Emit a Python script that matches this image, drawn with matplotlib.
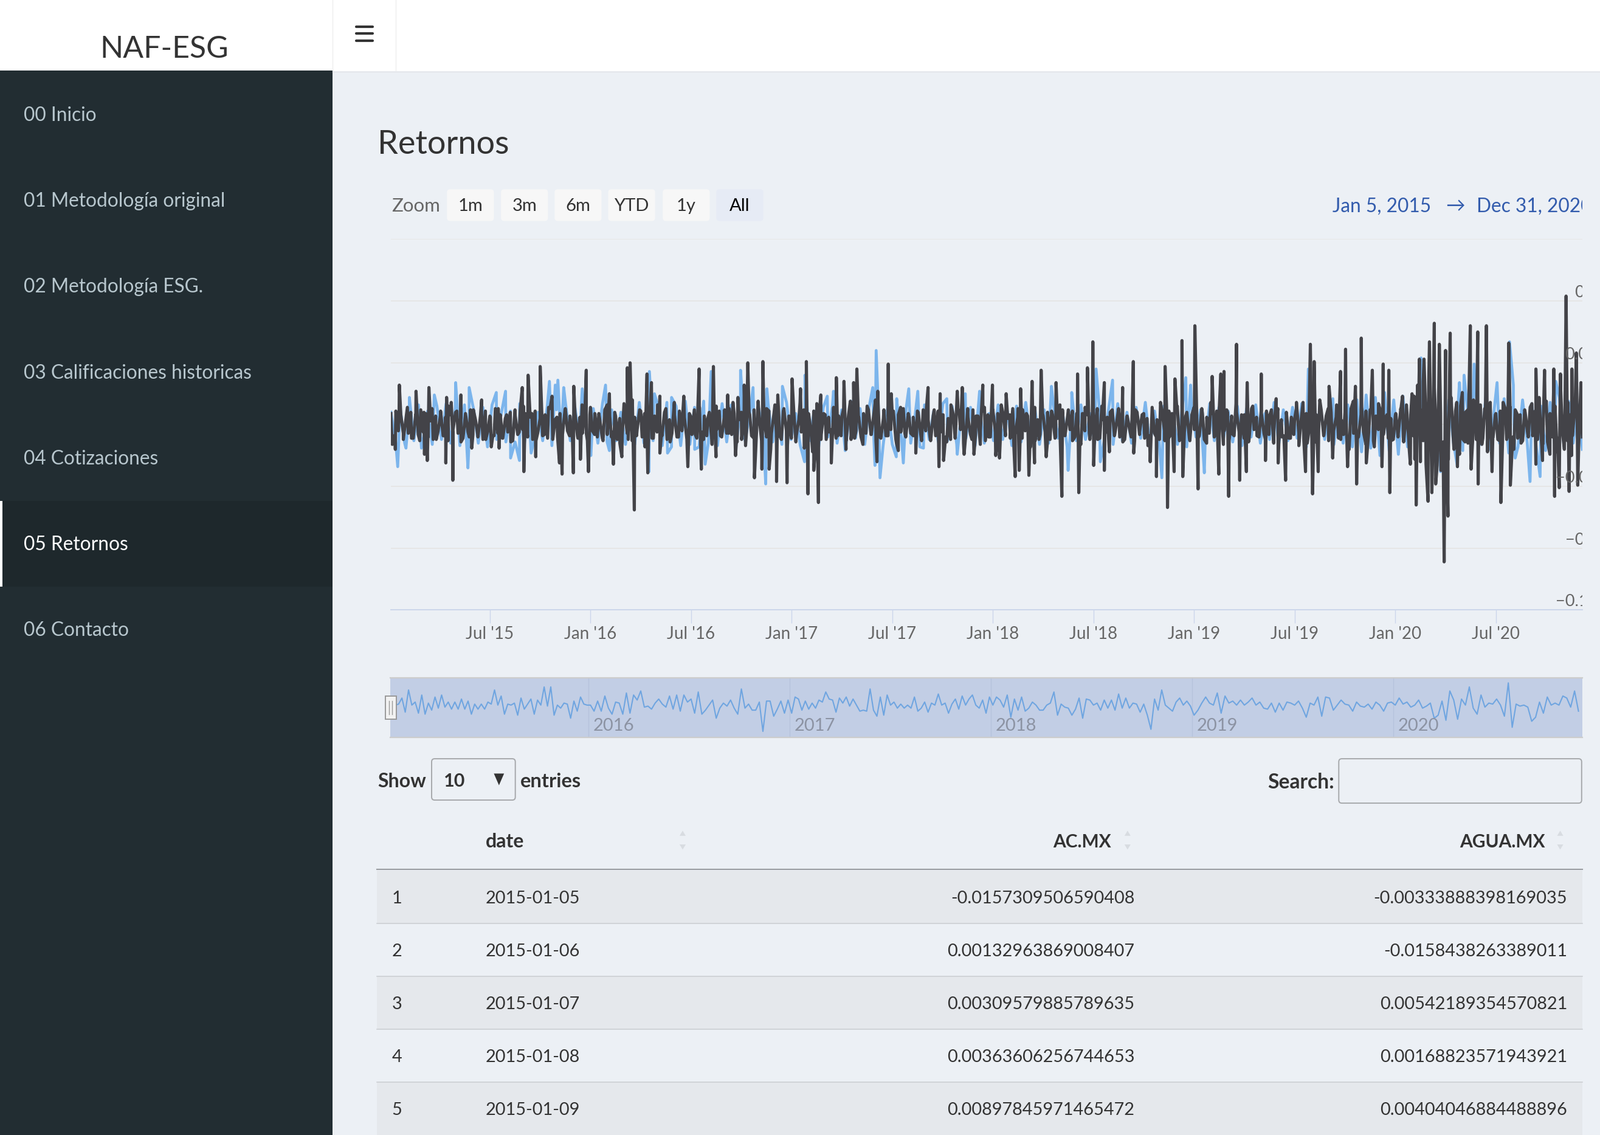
"""Retornos dashboard page (NAF-ESG): stock chart, navigator and table."""
import numpy as np
import matplotlib
matplotlib.use('Agg')
import matplotlib.pyplot as plt
from matplotlib.patches import Rectangle, FancyBboxPatch, Polygon

plt.rcParams['font.family'] = ['Lato', 'Noto Sans', 'DejaVu Sans']

# === Data (returns in 1e-3 units, time in decimal years) ===
dark_high_x = [2015.05, 2015.133, 2015.197, 2015.285, 2015.308, 2015.356, 2015.459, 2015.661, 2015.69, 2015.75,
               2015.809, 2015.917, 2015.979, 2016.094, 2016.183, 2016.197, 2016.281, 2016.303, 2016.345, 2016.464,
               2016.54, 2016.611, 2016.682, 2016.733, 2016.764, 2016.782, 2016.857, 2016.931, 2017.002, 2017.044,
               2017.073, 2017.145, 2017.222, 2017.26, 2017.308, 2017.324, 2017.428, 2017.48, 2017.495, 2017.678,
               2017.738, 2017.823, 2017.848, 2017.95, 2017.998, 2018.066, 2018.138, 2018.195, 2018.24, 2018.314,
               2018.421, 2018.47, 2018.497, 2018.554, 2018.645, 2018.698, 2018.856, 2018.905, 2018.94, 2019.004,
               2019.09, 2019.133, 2019.149, 2019.211, 2019.264, 2019.334, 2019.408, 2019.509, 2019.578, 2019.597,
               2019.671, 2019.728, 2019.753, 2019.802, 2019.831, 2019.886, 2019.94, 2019.968, 2020.036, 2020.094,
               2020.12, 2020.143, 2020.17, 2020.194, 2020.219, 2020.25, 2020.273, 2020.373, 2020.41, 2020.453,
               2020.564, 2020.699, 2020.742, 2020.788, 2020.821, 2020.849, 2020.878, 2020.9, 2020.923]
dark_high_y = [32, 27, 30, 22, 18, 24, 20, 30, 40, 47,
               23, 31, 44, 25, 46, 50, 41, 34, 23, 23,
               45, 47, 24, 22, 32, 50, 51, 24, 37, 29,
               51, 24, 38, 35, 34, 45, 27, 49, 25, 30,
               25, 27, 30, 32, 32, 25, 29, 35, 44, 34,
               41, 46, 67, 34, 30, 51, 47, 37, 68, 80,
               39, 41, 43, 65, 34, 41, 21, 18, 65, 51,
               31, 43, 61, 31, 70, 44, 49, 44, 23, 23,
               53, 53, 67, 82, 65, 60, 74, 80, 75, 80,
               66, 45, 44, 45, 41, 104, 45, 58, 34]
dark_low_x = [2015.015, 2015.03, 2015.175, 2015.189, 2015.281, 2015.316, 2015.41, 2015.507, 2015.546, 2015.669,
              2015.728, 2015.846, 2015.859, 2015.915, 2015.95, 2015.99, 2016.114, 2016.156, 2016.218, 2016.285,
              2016.345, 2016.484, 2016.551, 2016.624, 2016.721, 2016.815, 2016.852, 2016.888, 2016.925, 2016.977,
              2017.081, 2017.11, 2017.133, 2017.197, 2017.27, 2017.424, 2017.53, 2017.617, 2017.732, 2017.755,
              2017.857, 2017.906, 2018.014, 2018.033, 2018.111, 2018.131, 2018.179, 2018.207, 2018.265, 2018.343,
              2018.427, 2018.501, 2018.554, 2018.579, 2018.7, 2018.782, 2018.813, 2018.868, 2018.901, 2018.944,
              2019.02, 2019.123, 2019.172, 2019.227, 2019.26, 2019.355, 2019.418, 2019.455, 2019.554, 2019.589,
              2019.617, 2019.689, 2019.763, 2019.808, 2019.856, 2019.934, 2019.973, 2020.075, 2020.104, 2020.163,
              2020.182, 2020.201, 2020.227, 2020.243, 2020.262, 2020.309, 2020.377, 2020.412, 2020.481, 2020.525,
              2020.572, 2020.699, 2020.732, 2020.792, 2020.815, 2020.864, 2020.907]
dark_low_y = [-16, -20, -24, -29, -31, -45, -19, -18, -19, -38,
              -26, -31, -40, -39, -28, -38, -32, -26, -69, -39,
              -23, -34, -36, -26, -25, -43, -36, -36, -46, -47,
              -56, -37, -63, -31, -20, -30, -21, -23, -34, -29,
              -24, -24, -25, -27, -42, -37, -41, -31, -26, -58,
              -55, -33, -37, -22, -23, -30, -42, -67, -38, -42,
              -52, -40, -58, -45, -38, -29, -31, -45, -38, -56,
              -38, -27, -34, -48, -31, -34, -55, -32, -65, -62,
              -55, -48, -37, -111, -74, -34, -36, -48, -38, -63,
              -49, -32, -29, -58, -51, -54, -49]

dark_base_15a = [9, -10, 12, -7, 14, -11, 8, -13, 10, -6, 13, -12, 7, -9, 15, -8, 11, -14, 6, -10, 12, -7, 9, -12]
dark_base_15b = [7, -9, 13, -11, 8, -14, 12, -6, 15, -10, 9, -13, 11, -8, 14, -12, 6, -15, 13, -9, 10, -11, 16, -7]
dark_base_16a = [14, -8, 9, -13, 16, -10, 7, -15, 17, -12, 20, -9, 11, -18, 8, -11, 16, -6, 13, -14, 18, -10, 8, -12]
dark_base_16b = [6, -8, 14, -12, 5, -16, 15, -9, 12, -7, 18, -14, 10, -17, 8, -11, 19, -15, 13, -20, 16, -8, 11, -17]
dark_base_17a = [10, -14, 18, -19, 9, -22, 17, -12, 8, -6, 14, -9, 7, -13, 19, -11, 6, -16, 15, -8, 20, -10, 12, -9]
dark_base_17b = [9, -15, 14, -7, 6, -9, 11, -13, 7, -10, 12, -6, 8, -14, 16, -11, 9, -15, 13, -12, 7, -16, 14, -10]
dark_base_18a = [12, -15, 16, -9, 8, -17, 13, -11, 9, -18, 14, -12, 7, -15, 11, -10, 16, -8, 12, -13, 9, -16, 14, -7]
dark_base_18b = [8, -12, 15, -6, 10, -9, 13, -14, 7, -10, 12, -8, 9, -17, 14, -10, 18, -13, 11, -16, 15, -9, 7, -13]
dark_base_19a = [14, -11, 9, -15, 18, -8, 12, -16, 10, -7, 17, -13, 8, -14, 15, -9, 11, -12, 7, -15, 13, -10, 6, -11]
dark_base_19b = [5, -17, 18, -15, 9, -14, 20, -8, 13, -18, 16, -12, 10, -20, 19, -9, 14, -16, 12, -18, 17, -10, 8, -13]
dark_base_20a = [7, -10, 12, -14, 16, -20, 25, -28, 32, -30, 35, -32, 38, -35, 30, -33, 36, -26, 30, -28, 22, -20,
                 18, -24, 26, -14, 12, -18, 20, -12, 15, -16, 13, -22, 18, -10]
dark_base_20b = [9, -13, 18, -12, 14, -20, 8, -15, 12, -10, 17, -14, 22, -16, 19, -24, 26, -22, 28, -20, 18, -25, 14, -16]
# small day to day moves that make up the dark band around zero
dark_fill = [6, -9, 11, -5, 8, -12, 4, -7, 10, -11, 5, -8, 12, -6, 9, -10, 3, -12, 7, -5, 11, -9, 6, -13, 8, -4, 10, -7, 5, -11,
             9, -6, 12, -8, 4, -10, 7, -12, 11, -5, 6, -9, 13, -7, 8, -11, 5, -6, 10, -13, 7, -8, 12, -4, 9, -10, 6, -12, 11, -7,
             5, -9, 8, -11, 13, -6, 4, -10, 9, -8, 12, -5, 7, -12, 10, -9, 6, -7, 11, -13, 8, -5, 9, -10, 4, -11, 12, -8, 7, -6,
             10, -12, 5, -9, 11, -7, 8, -13, 6, -4, 12, -10, 9, -8, 5, -11, 7, -6, 13, -9, 10, -12, 4, -7, 8, -10, 11, -5, 6, -13,
             9, -8, 12, -11, 5, -6, 7, -9, 10, -12, 8, -4, 11, -10, 6, -7, 13, -8, 9, -11, 4, -12, 7, -5, 10, -9, 12, -6, 8, -13,
             5, -10, 11, -7, 9, -8, 6, -12, 13, -5, 7, -11, 10, -9, 4, -6, 12, -13, 8, -7, 11, -10, 5, -8, 9, -12, 6, -4, 10, -11,
             7, -9, 13, -6, 8, -12, 11, -5, 4, -10, 9, -7, 12, -8, 6, -13, 10, -11, 5, -9, 7, -4, 11, -12, 8, -6, 13, -10, 9, -7,
             6, -11, 10, -8, 12, -5, 4, -13, 7, -9, 11, -6, 8, -10, 5, -12, 9, -7, 13, -4, 10, -11, 6, -8, 12, -9, 7, -5, 11, -13,
             8, -10, 4, -6, 9, -12, 10, -7, 5, -11, 13, -8, 6, -9, 12, -5, 7, -10, 11, -13, 4, -8, 9, -6, 10, -12, 8, -11, 5, -7,
             12, -9, 6, -4, 11, -10, 7, -13, 9, -5, 8, -12, 10, -6, 13, -11, 4, -7, 6, -9, 12, -8, 5, -10, 11, -12, 7, -4, 9, -13,
             10, -6, 8, -11, 5, -9, 13, -7, 4, -12, 11, -5, 6, -10, 9, -8, 12, -13, 7, -6, 10, -11, 8, -4, 5, -9, 13, -12, 6, -7,
             9, -10, 11, -8, 4, -5, 12, -13, 7, -9, 10, -6, 8, -11, 5, -12, 13, -4, 6, -10, 9, -7, 11, -8, 12, -5, 7, -13, 4, -9,
             10, -11, 6, -8, 13, -7, 5, -12, 9, -6, 11, -10, 8, -4, 12, -9, 7, -13, 10, -5, 6, -11, 4, -8, 9, -12, 13, -7, 5, -10,
             8, -6, 11, -9, 12, -13, 7, -4, 10, -8, 6, -11, 5, -12, 9, -7, 13, -10, 4, -6, 8, -9, 11, -5, 12, -13, 10, -7, 6, -8,
             7, -11, 9, -14, 12, -10, 14, -8, 11, -13, 15, -12, 10, -15, 13, -9, 12, -14, 16, -11, 9, -13, 14, -10, 8, -12, 11, -7, 13, -9,
             6, -10, 12, -11, 8, -13, 10, -7, 14, -9, 11, -12, 7, -8, 13, -14, 9, -10, 15, -11, 12, -6, 10, -13, 8, -9, 14, -12, 11, -10]

blue_high_x = [2015.1, 2015.224, 2015.33, 2015.397, 2015.532, 2015.578, 2015.796, 2015.825, 2015.838, 2015.867,
               2015.959, 2016.075, 2016.293, 2016.318, 2016.403, 2016.6, 2016.746, 2016.808, 2016.877, 2016.954,
               2017.066, 2017.177, 2017.208, 2017.403, 2017.42, 2017.522, 2017.582, 2017.627, 2017.771, 2017.863,
               2017.934, 2018.291, 2018.392, 2018.513, 2018.595, 2018.959, 2018.983, 2019.568, 2019.69, 2020.128,
               2020.319, 2020.342, 2020.392, 2020.506, 2020.568, 2020.587, 2020.798]
blue_high_y = [22, 24, 34, 30, 26, 27, 35, 32, 36, 30,
               29, 32, 43, 25, 22, 43, 44, 30, 29, 31,
               40, 23, 27, 30, 60, 21, 29, 27, 21, 25,
               27, 31, 26, 45, 36, 38, 32, 45, 21, 54,
               34, 40, 49, 34, 67, 32, 35]
blue_low_x = [2015.042, 2015.083, 2015.16, 2015.391, 2015.603, 2015.647, 2015.705, 2016.002, 2016.094, 2016.291,
              2016.383, 2016.518, 2016.57, 2016.871, 2017.064, 2017.266, 2017.414, 2017.439, 2017.52, 2017.555,
              2017.655, 2017.823, 2018.374, 2018.534, 2018.84, 2019.051, 2020.225, 2020.309, 2020.596, 2020.67,
              2020.72]
blue_low_y = [-34, -19, -19, -35, -27, -29, -23, -25, -21, -38,
              -23, -20, -32, -48, -30, -21, -33, -43, -26, -31,
              -19, -24, -37, -30, -43, -39, -38, -34, -27, -46,
              -42]
blue_base = [10, -12, 14, -15, 12, -13, 16, -14, 11, -16, 15, -12, 17, -15, 13, -17, 16, -13, 12, -15, 14, -18, 16, -12, 9, -14,
             11, -14, 17, -16, 13, -15, 10, -13, 15, -17, 12, -14, 16, -13, 14, -12, 11, -16, 13, -15, 17, -14, 12, -13, 10, -16,
             14, -16, 18, -15, 12, -13, 16, -17, 18, -18, 15, -17, 19, -16, 14, -18, 19, -15, 13, -17, 17, -14, 16, -18, 12, -13,
             8, -15, 13, -11, 17, -14, 10, -16, 18, -12, 9, -17, 15, -13, 11, -18, 14, -10, 16, -15, 12, -14, 19, -11, 13, -16,
             15, -12, 10, -17, 14, -16, 18, -11, 13, -15, 9, -18, 16, -12, 11, -14, 17, -13, 15, -16, 10, -11, 14, -17, 12, -15,
             9, -13, 16, -12, 11, -17, 15, -14, 18, -10, 13, -16, 12, -15, 17, -11, 10, -18, 14, -13, 16, -12, 9, -15, 13, -14,
             12, -16, 17, -13, 10, -15, 14, -11, 18, -17, 11, -14, 15, -12, 9, -16, 13, -18, 16, -10, 12, -15, 17, -13, 14, -11,
             11, -14, 15, -17, 13, -10, 16, -15, 9, -12, 18, -16, 12, -13, 14, -11, 17, -18, 10, -14, 15, -12, 13, -16, 11, -15,
             16, -18, 20, -22, 24, -19, 22, -25, 26, -21, 20, -24, 23, -18, 19, -20, 21, -17, 18, -22, 16, -19, 20, -15, 17, -21,
             14, -17, 19, -16, 22, -20, 18, -15, 21, -23, 16, -18, 20, -14, 17, -19, 15, -21, 18, -16, 22, -17, 19, -15, 16, -20]

nav_15 = [0, 1, 7, -7, 15, 0, 3, -8, 10, -9, 2, -5, 8, -3, 10, -2, 3, -4, 3, -4, 6, -4, 4, -9, 1, -4, 1, -4, 3, 1,
          15, 0, 9, -9, 1, 0, 2, -10, 7, -4, 1, 6, -9, 5, 0, 18, -1, 18, -10, 0, -3, 2, 1, -13, 4, -6, 8, 1, 0]
nav_16 = [0, -6, 4, -6, 9, -3, -9, 3, 2, -9, 12, -8, 10, 5, 14, -2, -1, -4, 2, 6, 1, -2, 9, -4, 10, -6, 10, 3, 6,
          -8, 13, -9, -5, 0, 5, -13, -3, 2, -1, 5, -3, -9, 16, -3, 1, -5, -5, 3, -26, 4, 4, -11, -4, 4, -8, 5]
nav_17 = [-8, 8, 6, -5, 4, -4, 2, -3, 5, 3, 13, 6, 5, -7, 7, 2, 8, -1, 6, 0, -6, -5, -6, 16, -5, -11, 8, -10, 10, 0,
          3, -3, 1, -3, 0, -3, 8, -6, -3, 3, -7, 2, 0, 11, 0, 2, -8, 1, 6, -4, 9, 0, 6, 10, 0, -3, 5, -8, 8]
nav_18 = [0, 8, 5, -2, 10, -12, 6, -5, 8, -6, -3, 3, 0, -5, -5, 0, 2, 13, -10, 1, -2, -3, -10, -4, 7, -13, 6, 5, 0,
          2, -5, 5, -3, 5, -5, 11, -3, 7, -3, 2, 1, -7, 1, -10, -24, 6, -5, 15, 0, -3, -6, 3, 7, 0, 4, -1]
nav_19 = [-10, -5, 2, 8, 2, 0, 12, -8, 9, 2, 4, 0, 5, 0, 3, 7, 0, 3, -3, -4, 2, -7, 2, -5, 3, 2, 0, 4, -3, -12, 2, 0,
          8, -11, 8, 7, -5, 0, 5, 1, 0, -6, 3, -1, -2, 1, -4, 3, 0, -6, 2, 3]
nav_20 = [0, 7, 1, 3, -2, 0, 5, -3, -1, 2, -13, -10, 4, -15, 14, 5, -14, 6, 0, 18, -3, -9, 10, -2, 2, 1, 6, 0, -11,
          22, -22, 1, -1, 0, -2, -16, -12, 3, -8, 8, 0, 2, 0, 9, 7, -2, 14, -6]

x_tick_pos = [2015.5, 2016.0, 2016.5, 2017.0, 2017.5, 2018.0, 2018.5, 2019.0, 2019.5, 2020.0, 2020.5]
x_tick_labels = ["Jul '15", "Jan '16", "Jul '16", "Jan '17", "Jul '17", "Jan '18", "Jul '18", "Jan '19", "Jul '19",
                 "Jan '20", "Jul '20"]
y_grid = [-0.15, -0.1, -0.05, 0, 0.05, 0.1, 0.15]
y_labels = ['-0.15', '-0.1', '-0.05', '0.05', '0.1']
nav_years = [2016, 2017, 2018, 2019, 2020]

menu_items = ['00 Inicio', '01 Metodología original', '02 Metodología ESG.', '03 Calificaciones historicas',
              '04 Cotizaciones', '05 Retornos', '06 Contacto']
zoom_buttons = ['1m', '3m', '6m', 'YTD', '1y', 'All']
table_dates = ['2015-01-05', '2015-01-06', '2015-01-07', '2015-01-08', '2015-01-09']
table_ac = ['-0.0157309506590408', '0.00132963869008407', '0.00309579885789635', '0.00363606256744653',
            '0.00897845971465472']
table_agua = ['-0.00333888398169035', '-0.0158438263389011', '0.00542189354570821', '0.00168823571943921',
              '0.00404046884488896']

# === Page colors ===
PAGE = '#ecf0f5'
SIDEBAR = '#222d32'
ACTIVE = '#1e282c'
INK = '#333333'

XMIN, XMAX = 2015.008, 2020.93

fig = plt.figure(figsize=(26.32, 18.67), dpi=100, facecolor=PAGE)

# layout below is in units of the 1568 wide page
ui = fig.add_axes([0, 0, 1, 1])
ui.set_xlim(0, 1568)
ui.set_ylim(1112.2, 0)
ui.axis('off')


def rect(x0, y0, x1, y1, **kw):
    ui.add_patch(Rectangle((x0, y0), x1 - x0, y1 - y0, linewidth=kw.pop('linewidth', 0), **kw))


def box(x0, y0, x1, y1, radius=3, **kw):
    ui.add_patch(FancyBboxPatch((x0, y0), x1 - x0, y1 - y0, boxstyle=f'round,pad=0,rounding_size={radius}', **kw))


# header and sidebar
rect(0, 0, 1568, 69.5, facecolor='white')
ui.plot([326, 1568], [70, 70], color='#e2e4e8', lw=1)
ui.plot([326, 326], [0, 69], color='#eeeeee', lw=1)
ui.plot([388, 388], [0, 69], color='#eeeeee', lw=1)
for y in [26, 33, 40]:
    ui.plot([349, 365], [y, y], color='#333333', lw=3, solid_capstyle='round')
ui.text(161, 48.5, 'NAF-ESG', fontsize=36, color=INK, ha='center', va='center')

rect(0, 69, 326, 1112.2, facecolor=SIDEBAR)
rect(0, 491, 326, 575, facecolor=ACTIVE)
rect(0, 491, 2.2, 575, facecolor='white')
menu_y = np.array([113, 197, 281, 366, 450, 534, 618])
for name, y in zip(menu_items, menu_y):
    ui.text(23.5, y, name, fontsize=22.8, va='center',
            color='white' if name == '05 Retornos' else '#b8c7ce')

ui.text(370, 141.5, 'Retornos', fontsize=39, color=INK, va='center')

# range selector
ui.text(384, 202, 'Zoom', fontsize=22.5, color='#666666', va='center')
btn_x = [438, 491, 543.5, 596, 649.5, 702]
for name, x in zip(zoom_buttons, btn_x):
    is_all = name == 'All'
    box(x, 185.5, x + 46, 216.5, facecolor='#e6ebf5' if is_all else '#f7f7f7', edgecolor='none')
    ui.text(x + 23, 202, name, fontsize=21, ha='center', va='center', color='black' if is_all else INK)
range_clip = Rectangle((0, 0), 1551, 1112, transform=ui.transData)
for x, label, ha in [(1306, 'Jan 5, 2015', 'left'), (1426, '→', 'center'), (1447, 'Dec 31, 2020', 'left')]:
    t = ui.text(x, 202, label, fontsize=22.8, color='#335cad', va='center', ha=ha, clip_on=True,
                family=['Lato', 'DejaVu Sans'])
    t.set_clip_path(range_clip)

# table controls
ui.text(370, 765.5, 'Show', fontsize=23, fontweight='bold', color=INK, va='center')
box(423, 743.5, 505, 784, radius=3, facecolor='none', edgecolor='#a6a8ab', linewidth=1.4)
ui.text(435, 765.5, '10', fontsize=22, fontweight='bold', color=INK, va='center')
ui.add_patch(Polygon([[484, 758], [494, 758], [489, 769.5]], facecolor='#333333', edgecolor='none'))
ui.text(510, 765.5, 'entries', fontsize=23.5, fontweight='bold', color=INK, va='center')
ui.text(1307.5, 766.5, 'Search:', fontsize=24.2, fontweight='bold', color=INK, va='center', ha='right')
box(1312, 743.5, 1550, 787, radius=3, facecolor='none', edgecolor='#a6a8ab', linewidth=1.4)


# table
def sort_arrows(x):
    for tip, base in [(814, 819), (832.5, 827.5)]:
        ui.add_patch(Polygon([[x - 3, base], [x + 3, base], [x, tip]], facecolor='#d8dce1', edgecolor='none'))


ui.text(476, 825, 'date', fontsize=23, fontweight='bold', color=INK, va='center')
ui.text(1089, 825, 'AC.MX', fontsize=21.5, fontweight='bold', color=INK, va='center', ha='right')
ui.text(1514, 825, 'AGUA.MX', fontsize=21.5, fontweight='bold', color=INK, va='center', ha='right')
for x in [669, 1105, 1529]:
    sort_arrows(x)
ui.plot([369.5, 1551], [852, 852], color='#9a9da1', lw=1.5)
row_h = 51.9
for i in range(len(table_dates)):
    top = 853 + i * row_h
    if i % 2 == 0:
        rect(369.5, top, 1551, top + row_h, facecolor='#e5e8ec')
    ui.plot([369.5, 1551], [top + row_h, top + row_h], color='#c9ccd0', lw=1.1)
    mid = top + row_h / 2 + 1.5
    ui.text(384, mid, str(i + 1), fontsize=20.8, color=INK, va='center')
    ui.text(476, mid, table_dates[i], fontsize=20.8, color=INK, va='center')
    ui.text(1112, mid, table_ac[i], fontsize=20.8, color=INK, va='center', ha='right')
    ui.text(1536, mid, table_agua[i], fontsize=20.8, color=INK, va='center', ha='right')

# === Main chart ===
ax = fig.add_axes([643 / 2632, 1 - 1003.5 / 1867, 1960 / 2632, 610 / 1867])
ax.patch.set_alpha(0)
half_edges = [2015.008] + [2015.5 + 0.5 * i for i in range(11)] + [2020.93]


def chunked(chunks, edges):
    xs, ys = [], []
    for vals, a, b in zip(chunks, edges[:-1], edges[1:]):
        xs.extend(np.linspace(a, b, len(vals), endpoint=False))
        ys.extend(vals)
    return np.array(xs), np.array(ys, dtype=float)


base_x, base_y = chunked([dark_base_15a, dark_base_15b, dark_base_16a, dark_base_16b, dark_base_17a, dark_base_17b,
                          dark_base_18a, dark_base_18b, dark_base_19a, dark_base_19b, dark_base_20a, dark_base_20b],
                         half_edges)
fill_x = np.linspace(XMIN, XMAX, len(dark_fill))
dark_x = np.concatenate([base_x, fill_x, dark_high_x, dark_low_x])
dark_y = np.concatenate([base_y, dark_fill, dark_high_y, dark_low_y])
order = np.argsort(dark_x)
dark_x, dark_y = dark_x[order], dark_y[order] / 1000

bb_x = np.linspace(XMIN, XMAX, len(blue_base))
blue_x = np.concatenate([bb_x, blue_high_x, blue_low_x])
blue_y = np.concatenate([blue_base, blue_high_y, blue_low_y])
order = np.argsort(blue_x)
blue_x, blue_y = blue_x[order], blue_y[order] / 1000

ax.plot(blue_x, blue_y, color='#7cb5ec', lw=3.4, solid_joinstyle='round', zorder=3)
ax.plot(dark_x, dark_y, color='#434348', lw=3.7, solid_joinstyle='round', zorder=4)

ax.set_xlim(XMIN, XMAX)
ax.set_ylim(-0.15, 0.15)
ax.set_yticks(y_grid)
ax.tick_params(axis='y', length=0, labelleft=False)
ax.grid(axis='y', color='#e6e6e6', lw=1.4, zorder=1)
ax.set_xticks(x_tick_pos)
ax.set_xticklabels(x_tick_labels, fontsize=20, color='#666666')
ax.tick_params(axis='x', length=16, width=1, color='#ccd6eb', pad=3, direction='out')
for side in ['top', 'left', 'right']:
    ax.spines[side].set_visible(False)
ax.spines['bottom'].set_color('#ccd6eb')
ax.spines['bottom'].set_linewidth(1.4)
# the page cuts these labels off at the right edge of the plot
for label in y_labels:
    ax.text(1.0128, float(label) + 0.0005, label.replace('-', '\u2212'), transform=ax.get_yaxis_transform(),
            ha='right', va='bottom', fontsize=19.5, color='#666666', clip_on=True, zorder=5)

# === Navigator ===
nav = fig.add_axes([642 / 2632, 1 - 1213 / 1867, 1961 / 2632, 98 / 1867], facecolor='#c2cee5')
nav_x, nav_y = chunked([nav_15, nav_16, nav_17, nav_18, nav_19, nav_20],
                       [2015.03, 2016.0, 2017.0, 2018.0, 2019.0, 2020.0, XMAX])
nav.plot(nav_x, nav_y / 1000, color='#6fa5e0', lw=1.5, zorder=3)
nav.set_xlim(XMIN - 0.003, XMAX)
nav.set_ylim(-0.032, 0.027)
nav.set_yticks([])
nav.set_xticks([])
for year in nav_years:
    nav.axvline(year - 0.01, color='#b6c3dc', lw=1, zorder=2)
    nav.text(year + 0.012, -0.0205, str(year), fontsize=21, color='#8c93a3', ha='left', va='center', zorder=4)
for side in ['left', 'right']:
    nav.spines[side].set_visible(False)
for side in ['top', 'bottom']:
    nav.spines[side].set_color('#cccccc')
    nav.spines[side].set_linewidth(1.6)

# navigator handle sits over the band edge
handle = Rectangle((377.5, 682), 11, 22.5, transform=ui.transData, facecolor='#f2f2f2', edgecolor='#999999',
                   linewidth=1.4, zorder=6)
fig.add_artist(handle)
for x in [381.5, 384]:
    fig.add_artist(plt.Line2D([x, x], [687, 700], transform=ui.transData, color='#999999', lw=1, zorder=7))

fig.savefig('out.png', dpi=100, facecolor=fig.get_facecolor())
